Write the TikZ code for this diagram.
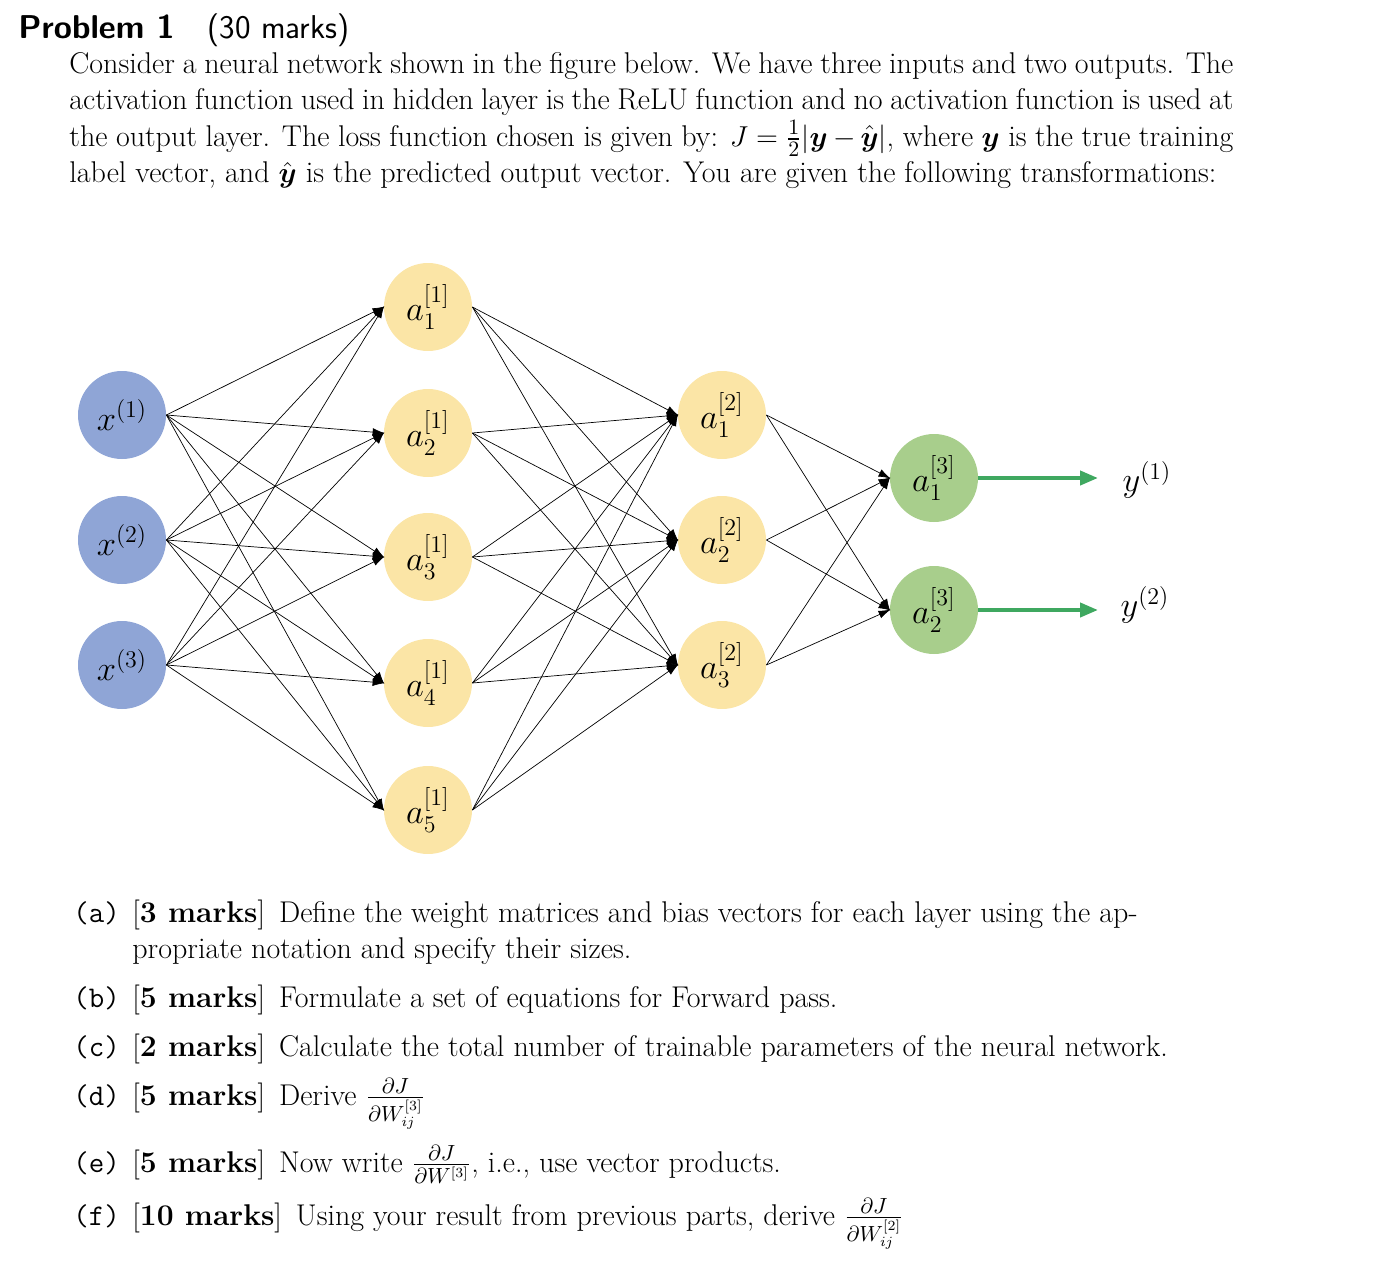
\documentclass[tikz,border=0pt]{standalone}
\usepackage{amsmath,amssymb}
\usetikzlibrary{arrows.meta}
\definecolor{inb}{HTML}{8FA5D6}
\definecolor{hid}{HTML}{FBE5A6}
\definecolor{outg}{HTML}{A8CE8C}
\definecolor{arg}{HTML}{3FA860}
\begin{document}
\begin{tikzpicture}[x=0.5pt,y=-0.5pt,
  neu/.style={circle,minimum size=44pt,inner sep=0pt,font=\fontsize{17.5}{20}\selectfont},
  ed/.style={-{Latex[length=6pt,width=4pt]},line width=0.35pt,shorten >=-0.5pt},
  txt/.style={anchor=north west,inner sep=0pt,font=\fontsize{15}{18.2}\selectfont,align=justify},
  lab/.style={anchor=base west,inner sep=0pt,font=\fontsize{15}{18.2}\selectfont}]
\useasboundingbox (0,0) rectangle (1386,1274);
\node[anchor=base west,inner sep=0pt,font=\sffamily\fontsize{16.5}{20}\selectfont] (title) at (18,38) {\textbf{Problem 1}\quad(30 marks)};
\node[txt,text width=582pt] (para) at (69,52) {Consider a neural network shown in the figure below. We have three inputs and two outputs. The activation function used in hidden layer is the ReLU function and no activation function is used at the output layer. The loss function chosen is given by: $J=\frac{1}{2}|\boldsymbol{y}-\hat{\boldsymbol{y}}|$, where $\boldsymbol{y}$ is the true training label vector, and $\hat{\boldsymbol{y}}$ is the predicted output vector. You are given the following transformations:};
\foreach \i/\y in {1/415,2/540,3/665} \node[neu,fill=inb] (x\i) at (122,\y) {$x^{(\i)}$};
\foreach \i/\y in {1/307,2/433,3/557,4/683,5/810} \node[neu,fill=hid] (h\i) at (428,\y) {$a^{[1]}_{\i}$};
\foreach \i/\y in {1/415,2/540,3/665} \node[neu,fill=hid] (g\i) at (722,\y) {$a^{[2]}_{\i}$};
\foreach \i/\y in {1/478,2/610} \node[neu,fill=outg] (o\i) at (934,\y) {$a^{[3]}_{\i}$};
\node[font=\fontsize{17.5}{20}\selectfont] (y1) at (1147,480) {$y^{(1)}$};
\node[font=\fontsize{17.5}{20}\selectfont] (y2) at (1145,605) {$y^{(2)}$};
\foreach \i in {1,2,3} \foreach \j in {1,...,5} \draw[ed] (x\i.east) -- (h\j.west);
\foreach \i in {1,...,5} \foreach \j in {1,2,3} \draw[ed] (h\i.east) -- (g\j.west);
\foreach \i in {1,2,3} \foreach \j in {1,2} \draw[ed] (g\i.east) -- (o\j.west);
\draw[-{Triangle[length=9pt,width=7pt]},line width=2pt,arg] (o1.east) -- (1098,478);
\draw[-{Triangle[length=9pt,width=7pt]},line width=2pt,arg] (o2.east) -- (1098,610);
\node[lab] (la) at (73,922) {\texttt{(a)}};
\node[txt,text width=551pt,anchor=base west] (ia) at (132,922) {[\textbf{3 marks}]\, Define the weight matrices and bias vectors for each layer using the ap-\\\hspace*{0pt}propriate notation and specify their sizes.};
\node[lab] (lb) at (73,1007) {\texttt{(b)}};
\node[lab] (ib) at (132,1007) {[\textbf{5 marks}]\, Formulate a set of equations for Forward pass.};
\node[lab] (lc) at (73,1056) {\texttt{(c)}};
\node[lab] (ic) at (132,1056) {[\textbf{2 marks}]\, Calculate the total number of trainable parameters of the neural network.};
\node[lab] (ld) at (73,1105) {\texttt{(d)}};
\node[lab] (id) at (132,1105) {[\textbf{5 marks}]\, Derive $\frac{\partial J}{\partial W^{[3]}_{ij}}$};
\node[lab] (le) at (73,1172) {\texttt{(e)}};
\node[lab] (ie) at (132,1172) {[\textbf{5 marks}]\, Now write $\frac{\partial J}{\partial W^{[3]}}$, i.e., use vector products.};
\node[lab] (lf) at (73,1225) {\texttt{(f)}};
\node[lab] (if) at (132,1225) {[\textbf{10 marks}]\, Using your result from previous parts, derive $\frac{\partial J}{\partial W^{[2]}_{ij}}$};
\end{tikzpicture}
\end{document}
